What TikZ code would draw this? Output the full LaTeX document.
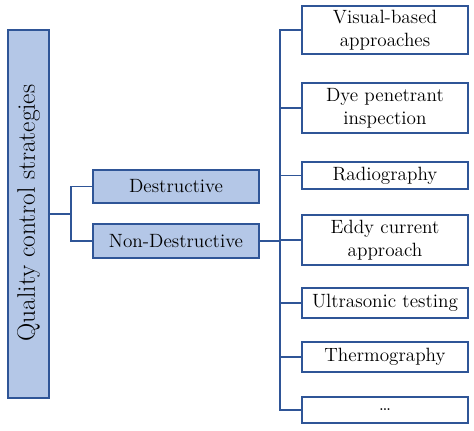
\documentclass[tikz,border=0pt]{standalone}
\usepackage{tikz}
\usepackage{xcolor}
\definecolor{boxfill}{RGB}{180,199,231}
\definecolor{boxline}{RGB}{47,85,151}
\tikzset{
	catbox/.style={
		draw=boxline,
		fill=boxfill,
		line width=1.2pt,
		inner sep=0pt,
		align=center,
		font=\fontsize{14.4}{17.5}\selectfont
	},
	methbox/.style={
		catbox,
		fill=white,
		minimum width=166*0.75pt
	}
}

\begin{document}
\begin{tikzpicture}[x=0.75pt,y=-0.75pt,link/.style={boxline,line width=1.2pt}]
	\useasboundingbox (0,0) rectangle (474,431);
	
	% (main box)
	\node [catbox,minimum width=41*0.75pt,minimum height=368*0.75pt] (qcs) at (28.5,214) {};
	\node [rotate=90,font=\fontsize{19}{20}\selectfont] (qcstext) at (28.5,213) {Quality control strategies};
	\node [catbox,minimum width=166*0.75pt,minimum height=33*0.75pt] (des) at (176,186.5) {Destructive};
	\node [catbox,minimum width=166*0.75pt,minimum height=34*0.75pt] (nde) at (176,241) {Non-Destructive};
	
	% (methods)
	\node [methbox,minimum height=48*0.75pt] (vis) at (385,30) {Visual-based\\approaches};
	\node [methbox,minimum height=50*0.75pt] (dye) at (385,108) {Dye penetrant\\inspection};
	\node [methbox,minimum height=27*0.75pt] (rad) at (385,175.5) {Radiography};
	\node [methbox,minimum height=50*0.75pt] (edd) at (385,240) {Eddy current\\approach};
	\node [methbox,minimum height=30*0.75pt] (ult) at (385,303) {Ultrasonic testing};
	\node [methbox,minimum height=30*0.75pt] (the) at (385,357) {Thermography};
	\node [methbox,minimum height=26*0.75pt] (dots) at (385,410) {\dots};
	
	% (links)
	\coordinate (fork) at (71,214);
	\coordinate (bus) at (280,241);
	\draw[link] (qcs.east) -- (fork);
	\draw[link] (des.west) -| (fork) |- (nde.west);
	\draw[link] (nde.east) -- (bus);
	\foreach \m in {vis,dye,rad,edd,ult,the,dots}
		\draw[link] (bus) |- (\m.west);
\end{tikzpicture}
\end{document}
